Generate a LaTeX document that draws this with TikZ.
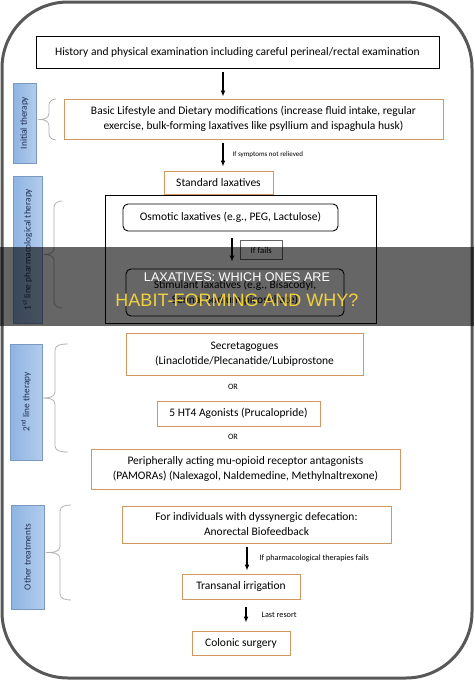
\documentclass[tikz,border=0pt]{standalone}
\usepackage{fontspec}
\setmainfont{Carlito}
\newfontfamily\ttlfont{Liberation Sans}
\usepackage{xcolor}
\usepackage{tikz}
\usetikzlibrary{shapes,shapes.geometric}
\usetikzlibrary{calc,arrows.meta,positioning}
\definecolor{boxorange}{RGB}{208,152,96}
\definecolor{labblue}{RGB}{142,180,226}
\definecolor{labblue2}{RGB}{178,204,236}
\definecolor{labtext}{RGB}{32,46,82}
\definecolor{framegray}{RGB}{88,88,88}
\definecolor{bracegray}{RGB}{178,178,178}
\definecolor{ttlyellow}{RGB}{240,210,62}
\tikzset{
  box_o/.style={draw=boxorange, line width=1pt, fill=white, align=center, inner sep=2pt, font=\fontsize{11.5}{15}\selectfont},
  box_k/.style={draw=black, line width=0.9pt, fill=white, align=center, inner sep=2pt, font=\fontsize{11.5}{15}\selectfont},
  box_r/.style={box_k, rounded corners=5pt},
  lab_b/.style={rotate=90, left color=labblue, right color=labblue2, draw=labblue!85!black, line width=0.3pt, text=labtext, align=center, inner sep=0pt, font=\fontsize{9.3}{10}\selectfont},
  txt_s/.style={font=\fontsize{7}{8}\selectfont, inner sep=1pt},
  txt_m/.style={font=\fontsize{8.2}{9}\selectfont, inner sep=1pt},
  arr/.style={-{Latex[length=6pt,width=5pt]}, line width=1.2pt},
  brc/.style={draw=bracegray, line width=0.8pt},
  ttl/.style={font=\ttlfont\fontsize{12.6}{14}\selectfont, text=white, inner sep=0pt}
}
\begin{document}
\begin{tikzpicture}[x=1pt,y=-1pt]
	\fill[white] (0,0) rectangle (474,680);
	\useasboundingbox (0,0) rectangle (474,680);
	\draw[framegray, line width=3pt, rounded corners=66pt] (2,2) rectangle (472,678);

	% treatment stages on the left
	\node[lab_b, minimum width=80pt, minimum height=23pt] (lab_init) at (24.5,123) {Initial therapy};
	\node[lab_b, minimum width=147pt, minimum height=29pt] (lab_first) at (27.5,249.5) {1\textsuperscript{st} line pharmacological therapy};
	\node[lab_b, minimum width=116pt, minimum height=32pt] (lab_second) at (26,402) {2\textsuperscript{nd} line therapy};
	\node[lab_b, minimum width=104pt, minimum height=33pt] (lab_other) at (27.5,557) {Other treatments};

	% braces: tip x, stem x, arm x, top y, bottom y
	\foreach \xt/\xv/\xa/\yt/\yb in {40/49/56/99/140, 44/54/62/201/308, 43/55/68/344/452, 46/60/71/505/600}{
		\draw[brc] (\xa,\yt) to[out=180,in=90] (\xv,\yt+6) -- (\xv,{(\yt+\yb)/2-6}) to[out=-90,in=0] (\xt,{(\yt+\yb)/2})
			to[out=0,in=90] (\xv,{(\yt+\yb)/2+6}) -- (\xv,\yb-6) to[out=-90,in=180] (\xa,\yb);
	}

	% main flow
	\node[box_k, minimum width=403pt, minimum height=32pt] (hist) at (237.5,52) {History and physical examination including careful perineal/rectal examination};
	\node[box_o, minimum width=379pt, minimum height=40pt] (basic) at (253.5,119) {Basic Lifestyle and Dietary modifications (increase fluid intake, regular\\ exercise, bulk-forming laxatives like psyllium and ispaghula husk)};
	\node[box_o, minimum width=109pt, minimum height=23pt] (std) at (218.5,182.5) {Standard laxatives};
	\node[box_k, minimum width=271pt, minimum height=128pt] (first) at (240.5,259) {};
	\node[box_r, minimum width=215pt, minimum height=27pt] (osm) at (230.5,217.5) {Osmotic laxatives (e.g., PEG, Lactulose)};
	\node[box_r, minimum width=218pt, minimum height=47pt] (stim) at (235,292.5) {Stimulant laxatives (e.g., Bisacodyl,\\ Senna, Sodium picosulfate)};
	\node[box_o, minimum width=237pt, minimum height=42pt] (secr) at (244.5,354) {Secretagogues\\ (Linaclotide/Plecanatide/Lubiprostone};
	\node[txt_m] (or_a) at (233,387) {OR};
	\node[box_o, minimum width=163pt, minimum height=25pt] (ht4) at (238.5,413.5) {5 HT4 Agonists (Prucalopride)};
	\node[txt_m] (or_b) at (233,437) {OR};
	\node[box_o, minimum width=309pt, minimum height=40pt] (pam) at (245.5,469) {Peripherally acting mu-opioid receptor antagonists\\ (PAMORAs) (Nalexagol, Naldemedine, Methylnaltrexone)};
	\node[box_o, minimum width=269pt, minimum height=37pt] (dys) at (256.5,524.5) {For individuals with dyssynergic defecation:\\ Anorectal Biofeedback};
	\node[box_o, minimum width=118pt, minimum height=25pt] (trans) at (241,586.5) {Transanal irrigation};
	\node[box_o, minimum width=98pt, minimum height=24pt] (colon) at (241,643) {Colonic surgery};

	% arrows
	\coordinate (ax_a) at (223,0);
	\coordinate (ax_b) at (232,0);
	\coordinate (ax_c) at (247,0);
	\coordinate (ax_d) at (246,0);
	\draw[arr, shorten <=4pt, shorten >=2pt] (hist.south -| ax_a) -- (basic.north -| ax_a);
	\draw[arr, shorten <=3pt, shorten >=4pt] (basic.south -| ax_a) -- node[txt_s, right=8pt] (lbl_sym) {If symptoms not relieved} (std.north -| ax_a);
	\draw[arr, shorten <=7pt, shorten >=7pt] (osm.south -| ax_b) -- node[txt_m, font=\fontsize{8.8}{9}\selectfont, draw=black!60, line width=0.5pt, right=8pt, minimum width=42pt, minimum height=19pt] (fails) {If fails} (stim.north -| ax_b);
	\draw[arr, shorten <=3pt, shorten >=3pt] (dys.south -| ax_c) -- node[txt_m, right=11pt] (lbl_pharm) {If pharmacological therapies fails} (trans.north -| ax_c);
	\draw[arr, shorten <=7pt, shorten >=8pt] (trans.south -| ax_d) -- node[txt_m, right=14pt] (lbl_last) {Last resort} (colon.north -| ax_d);

	% title band
	\fill[black, opacity=0.6] (0,247) rectangle (474,326);
	\node[ttl] (ttl_a) at (237,277) {LAXATIVES: WHICH ONES ARE};
	\node[ttl, text=ttlyellow, font=\ttlfont\fontsize{18}{20}\selectfont] (ttl_b) at (237,300) {HABIT-FORMING AND WHY?};
\end{tikzpicture}
\end{document}
